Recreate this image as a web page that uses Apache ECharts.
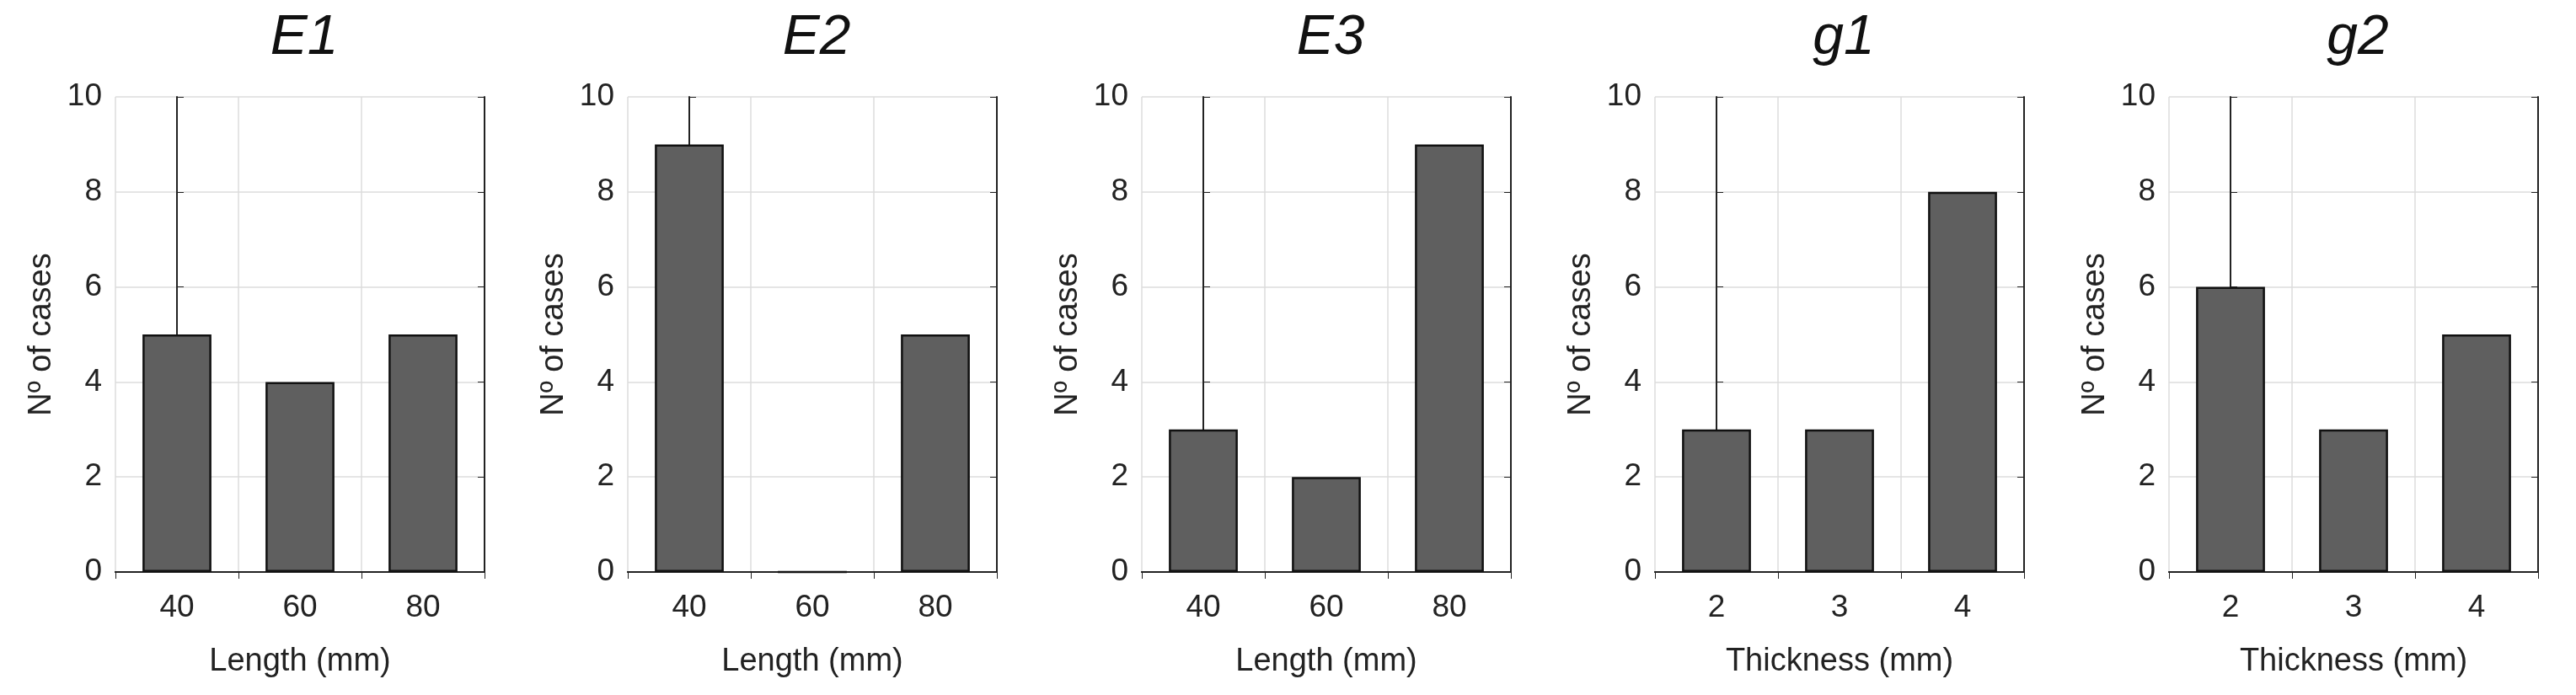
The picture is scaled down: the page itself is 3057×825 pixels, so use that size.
<!DOCTYPE html>
<html><head><meta charset="utf-8">
<script src="https://cdn.jsdelivr.net/npm/echarts@6/dist/echarts.min.js"></script>
<style>html,body{margin:0;background:#fff}#c{width:3057px;height:825px}</style>
</head><body><div id="c"></div>
<script>
const titles = ['E1','E2','E3','g1','g2'];
const xNames = ['Length (mm)','Length (mm)','Length (mm)','Thickness (mm)','Thickness (mm)'];
const catsLength = ['40','60','80'];
const catsThick = ['2','3','4'];
const valsE1 = [5,4,5];
const valsE2 = [9,0,5];
const valsE3 = [3,2,9];
const valsG1 = [3,3,8];
const valsG2 = [6,3,5];
const yTicks = [0,2,4,6,8,10];

(function(){
const cats = [catsLength,catsLength,catsLength,catsThick,catsThick];
const vals = [valsE1,valsE2,valsE3,valsG1,valsG2];
const lefts = [137,745,1355,1964,2574];
const W = 438, gTop = 115, H = 564;
const font = 'Liberation Sans, Arial, sans-serif';
const option = {animation:false, title:[], grid:[], xAxis:[], yAxis:[], series:[]};
for (let i=0;i<5;i++){
  option.title.push({text:titles[i], left:lefts[i]+W/2, top:8, textAlign:'center',
    textStyle:{fontSize:66, fontStyle:'italic', fontWeight:'normal', color:'#111', fontFamily:font}});
  option.grid.push({left:lefts[i], top:gTop, width:W, height:H});
  option.xAxis.push({gridIndex:i, type:'category', data:cats[i], name:xNames[i], nameLocation:'middle', nameGap:88,
    nameTextStyle:{fontSize:38, color:'#222', fontFamily:font},
    axisLine:{lineStyle:{color:'#222', width:2}}, axisTick:{show:false},
    axisLabel:{fontSize:37, color:'#222', margin:24, fontFamily:font},
    splitLine:{show:false}});
  option.yAxis.push({gridIndex:i, type:'value', min:yTicks[0], max:yTicks[yTicks.length-1], interval:2,
    name:'N\u00ba of cases', nameLocation:'middle', nameGap:68,
    nameTextStyle:{fontSize:38, color:'#222', fontFamily:font},
    axisLine:{show:true, lineStyle:{color:'#222', width:2}}, axisTick:{show:true, inside:true, length:8, lineStyle:{color:'#222'}},
    axisLabel:{fontSize:37, color:'#222', margin:16, fontFamily:font},
    splitLine:{show:true, lineStyle:{color:'#ddd', width:1.5}}});
  option.xAxis.push({gridIndex:i, type:'value', position:'top', min:-0.5, max:2.5, interval:1,
    axisLine:{show:true, lineStyle:{color:'#222', width:2}}, axisTick:{show:true, inside:true, length:8, lineStyle:{color:'#222'}}, axisLabel:{show:false},
    splitLine:{show:true, lineStyle:{color:'#ddd', width:1.5}}});
  option.yAxis.push({gridIndex:i, type:'value', position:'right', min:0, max:10, interval:2,
    axisLine:{show:true, lineStyle:{color:'#222', width:2}}, axisTick:{show:true, inside:true, length:8, lineStyle:{color:'#222'}}, axisLabel:{show:false}, splitLine:{show:false}});
  option.series.push({type:'bar', xAxisIndex:2*i, yAxisIndex:2*i, data:vals[i], barWidth:'56%',
    itemStyle:{color:'#5f5f5f', borderColor:'#111', borderWidth:2.5}, z:3});
}
echarts.init(document.getElementById('c')).setOption(option);
})();
</script></body></html>
